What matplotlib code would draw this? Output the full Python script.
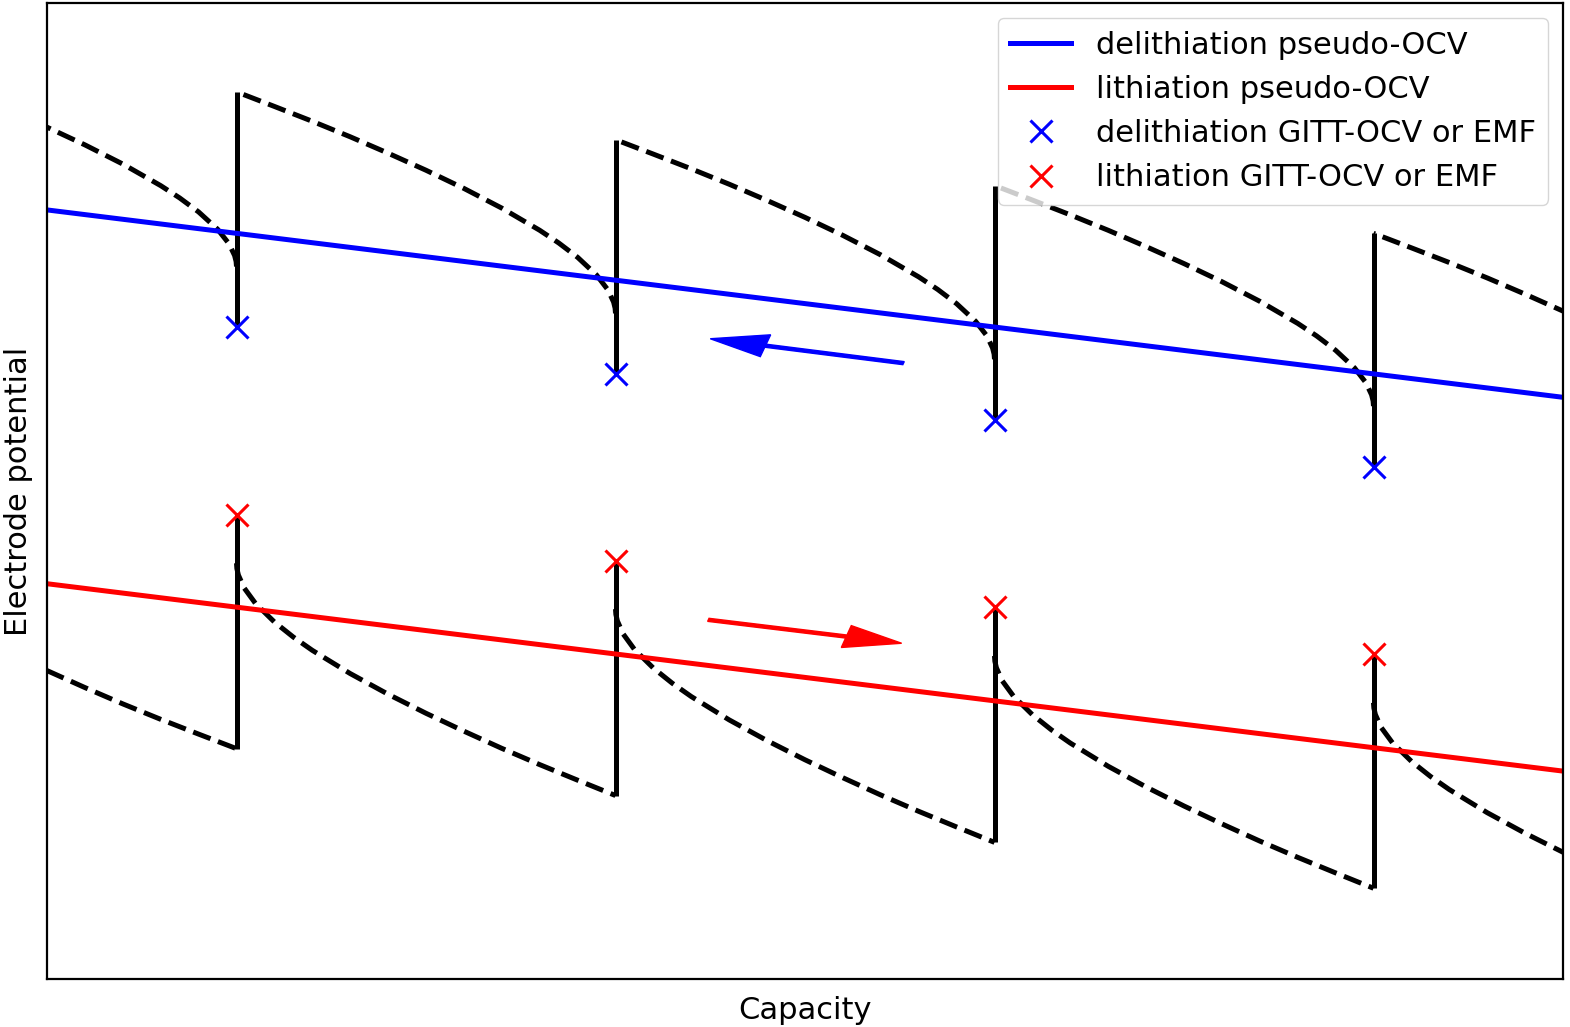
import numpy as np
import matplotlib.pyplot as plt

# pseudo-OCV lines, drawn across the whole capacity range
ocv_x = [0, 8]
delith_ocv = [7.88, 5.96]
lith_ocv = [4.05, 2.13]

# relaxed points (GITT-OCV or EMF) at the end of each rest
step_x = [1, 3, 5, 7]
delith_emf = [6.68, 6.20, 5.73, 5.25]
lith_emf = [4.75, 4.28, 3.81, 3.33]

# potential reached at the end of each pulse (top / bottom of the relaxation)
delith_peak = [9.09, 8.60, 8.13, 7.64]
lith_dip = [2.36, 1.88, 1.40, 0.93]

# dashed pulse curves, each starts at seg_x and runs to the next step
seg_x = [-1, 1, 3, 5, 7]
delith_seg_hi = [9.51, 9.09, 8.60, 8.13, 7.64]
delith_seg_lo = [7.30, 6.82, 6.35, 5.87, 5.39]
lith_seg_hi = [4.62, 4.26, 3.79, 3.31, 2.83]
lith_seg_lo = [2.36, 1.88, 1.40, 0.93, 0.46]
seg_len = 2.0

# shape of one pulse curve
# u: distance from the steep end (0..1), h: fraction of the total drop
prof_u = np.array([0, 0.001, 0.005, 0.02, 0.05, 0.1, 0.15, 0.2, 0.3, 0.4,
                   0.5, 0.6, 0.7, 0.8, 0.9, 1.0])
prof_h = np.array([0, 0.023, 0.051, 0.106, 0.173, 0.253, 0.318, 0.375, 0.475,
                   0.564, 0.646, 0.723, 0.797, 0.867, 0.934, 1.0])

# direction arrows: (tail x, tail y, tip x, tip y)
delith_arrow = [4.52, 6.31, 3.50, 6.56]
lith_arrow = [3.49, 3.68, 4.51, 3.44]

LW = 3.6

fig = plt.figure(figsize=(15.7, 10.27), dpi=100)
ax = fig.add_axes([47 / 1570, 1 - 979 / 1027, 1516 / 1570, 976 / 1027])

for s, hi, lo in zip(seg_x, delith_seg_hi, delith_seg_lo):
    x = s + seg_len * (1 - prof_u)
    y = lo + prof_h * (hi - lo)
    ax.plot(x, y, 'k--', lw=LW)

for s, hi, lo in zip(seg_x, lith_seg_hi, lith_seg_lo):
    x = s + seg_len * prof_u
    y = hi - prof_h * (hi - lo)
    ax.plot(x, y, 'k--', lw=LW)

ax.vlines(step_x, delith_emf, delith_peak, colors='k', lw=LW)
ax.vlines(step_x, lith_dip, lith_emf, colors='k', lw=LW)

l1, = ax.plot(ocv_x, delith_ocv, color='blue', lw=LW, label='delithiation pseudo-OCV')
l2, = ax.plot(ocv_x, lith_ocv, color='red', lw=LW, label='lithiation pseudo-OCV')
m1, = ax.plot(step_x, delith_emf, 'x', color='blue', ms=16, mew=2.2,
              label='delithiation GITT-OCV or EMF')
m2, = ax.plot(step_x, lith_emf, 'x', color='red', ms=16, mew=2.2,
              label='lithiation GITT-OCV or EMF')

for arr, c in [(delith_arrow, 'blue'), (lith_arrow, 'red')]:
    ax.arrow(arr[0], arr[1], arr[2] - arr[0], arr[3] - arr[1], width=0.032,
             head_width=0.23, head_length=0.3, length_includes_head=True,
             color=c)

ax.set_xlim(0, 8)
ax.set_ylim(0, 10)
ax.set_xticks([])
ax.set_yticks([])
for sp in ax.spines.values():
    sp.set_linewidth(1.6)

ax.set_xlabel('Capacity', fontsize=22, labelpad=12)
ax.set_ylabel('Electrode potential', fontsize=22, labelpad=10)
ax.legend(handles=[l1, l2, m1, m2], loc='upper right', fontsize=22)

fig.savefig('out.png', dpi=100)
